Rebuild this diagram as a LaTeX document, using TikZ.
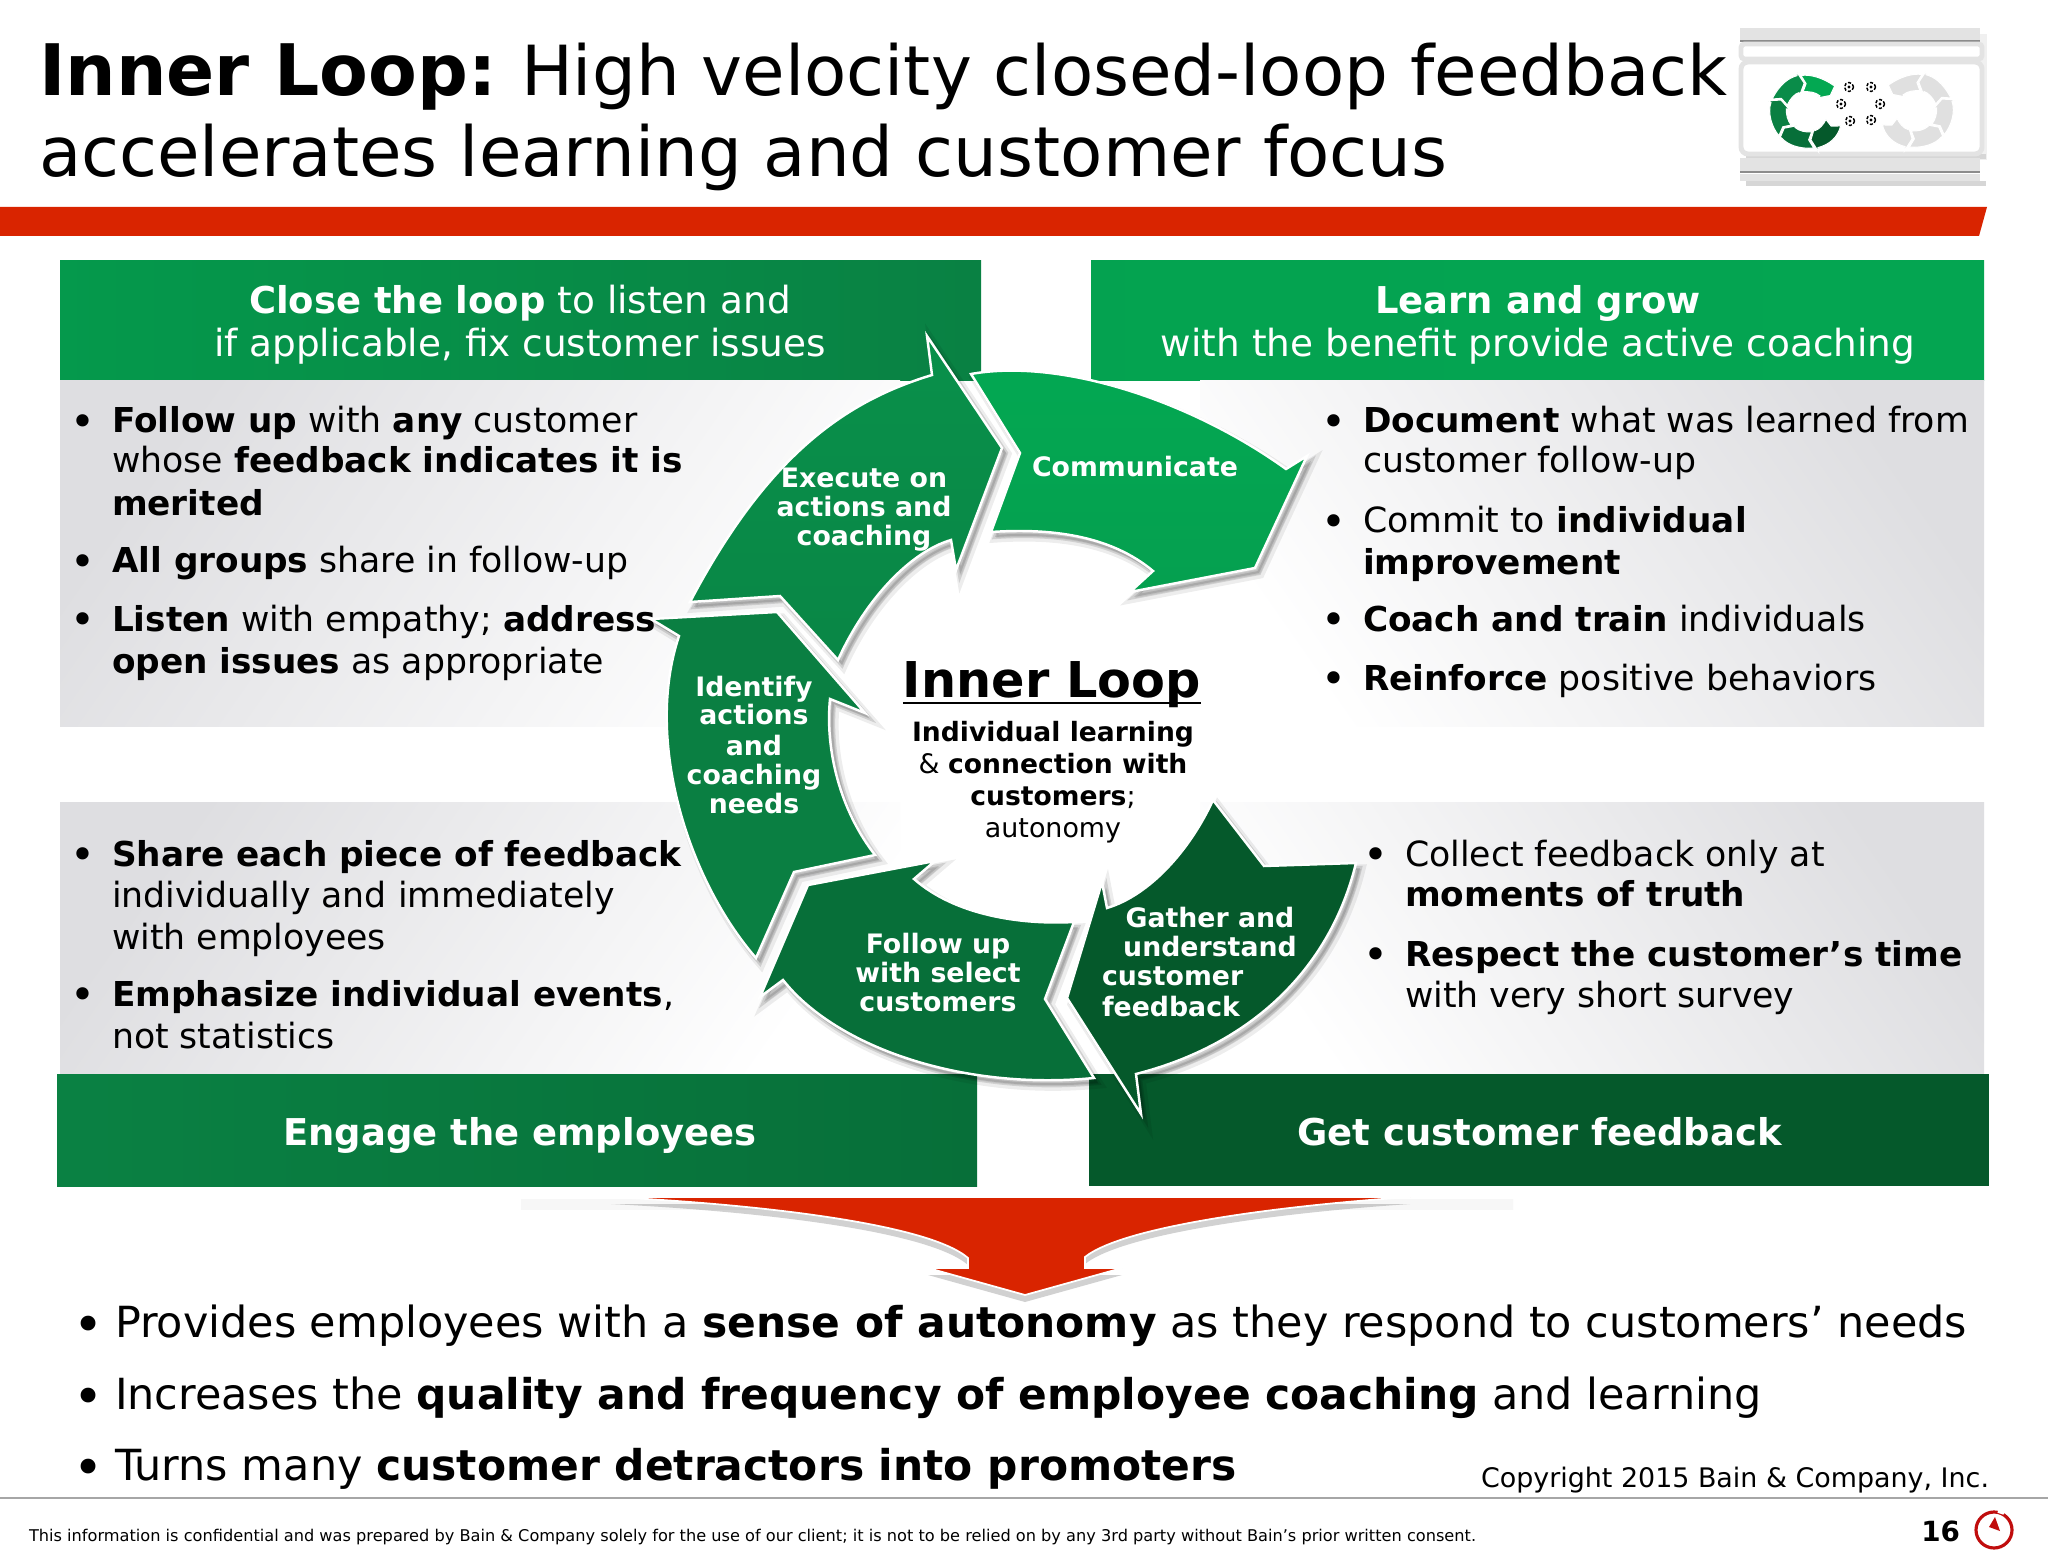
\documentclass[tikz,border=0pt]{standalone}
\usepackage{fontspec}
\setmainfont{DejaVu Sans}[BoldFeatures={Scale=0.988}]
\usepackage{tikz}
\usetikzlibrary{shadows}

\definecolor{barred}{HTML}{D92400}
\definecolor{panelgrey}{HTML}{DEDEE1}
\definecolor{logored}{HTML}{C00D0D}
\definecolor{loopcomm}{HTML}{03A852}
\definecolor{loopexec}{HTML}{0A8C49}
\definecolor{loopiden}{HTML}{0A7F42}
\definecolor{loopfoll}{HTML}{076F39}
\definecolor{loopgath}{HTML}{05592B}

\newcommand{\fsz}[1]{\fontsize{#1}{#1}\selectfont}

% the five arrows of the loop: style, then the look of each arrow
\newcommand{\loopring}[6]{%
  \path[#1,#2] (690,602) .. controls (770,450) and (850,400) .. (932,375) -- (927,336)
     -- (1002,448) -- (956,570) -- (951,540) .. controls (910,552) and (865,600) .. (838,660)
     -- (780,596) -- cycle;
  \path[#1,#3] (971,374) .. controls (1060,358) and (1190,400) .. (1286,469) -- (1307,456)
     -- (1255,568) -- (1130,592) -- (1153,571) .. controls (1110,535) and (1050,528) .. (991,532)
     -- (1020,453) -- cycle;
  \path[#1,#4] (1213,800) -- (1264,866) -- (1356,863) .. controls (1330,970) and (1250,1045) .. (1136,1074)
     -- (1141,1114) -- (1067,998) -- (1102,882) -- (1107,908) .. controls (1150,895) and (1190,850) .. (1213,800) -- cycle;
  \path[#1,#5] (1094,1078) -- (1045,999) -- (1074,922) .. controls (1020,925) and (955,915) .. (914,879)
     -- (935,861) -- (808,885) -- (760,997) -- (783,980) .. controls (835,1046) and (960,1091) .. (1094,1078) -- cycle;
  \path[#1,#6] (651,619) -- (777,612) -- (865,713) -- (830,699) .. controls (825,750) and (840,810) .. (875,855)
     -- (794,872) -- (756,958) .. controls (688,880) and (644,740) .. (679,636) -- cycle;
}

\tikzset{
  plain/.style={inner sep=0pt,outer sep=0pt},
  titletext/.style={plain,anchor=base west,font=\fsz{19.65}},
  headtext/.style={plain,anchor=base,text=white,font=\fsz{10.63}},
  bodytext/.style={plain,anchor=base west,font=\fsz{9.87}},
  dottext/.style={plain,anchor=center,font=\fsz{12}},
  closetext/.style={plain,anchor=base west,font=\fsz{12.2}},
  labeltext/.style={plain,anchor=base,text=white,font=\bfseries\fsz{7.7}},
  centertext/.style={plain,anchor=base,font=\fsz{7.65}},
  panelfade/.style={shading=axis,top color=panelgrey,middle color=white,bottom color=white},
  arrowbody/.style={draw=white,line width=.7pt,
    preaction={draw=black,fill=black,opacity=.07,line width=2.6pt,transform canvas={shift={(.05cm,-.06cm)}}},
    preaction={draw=black,fill=black,opacity=.12,line width=1.2pt,transform canvas={shift={(.04cm,-.05cm)}}}},
  minibody/.style={draw=white,line width=.3pt},
  stripbox/.style={fill=black!11,draw=none},
}

\begin{document}
\begin{tikzpicture}[x=.01cm,y=-.01cm]
\useasboundingbox (0,0) rectangle (2048,1567);
\fill[white] (0,0) rectangle (2048,1567);

% TITLE
  \node[titletext] (titlea) at (39,96) {{\fsz{20.45}\textbf{Inner Loop:}}\hspace{-.05cm} High velocity closed-loop feedback};
  \node[titletext] (titleb) at (39,177) {accelerates learning and customer focus};
  \fill[barred] (0,207) -- (1987,207) -- (1979,236) -- (0,236) -- cycle;

% ICON
  \fill[black!6] (1746,34) rectangle (1987,160);
  \fill[stripbox] (1740,28) rectangle (1980,41);
  \draw[black!45,line width=.4pt] (1740,41) -- (1980,41);
  \draw[black!11,fill=white,line width=1.4pt,rounded corners=1pt] (1741,44) rectangle (1982,59);
  \fill[black!16] (1746,154) rectangle (1986,159);
  \draw[black!11,fill=white,line width=1.4pt,rounded corners=2pt] (1741,62) rectangle (1982,154);
  \fill[stripbox] (1740,158) rectangle (1980,171);
  \draw[black!45,line width=.4pt] (1740,172) -- (1980,172);
  \fill[stripbox] (1740,174) rectangle (1980,181);
  \fill[black!16] (1746,181) rectangle (1986,186);
  \begin{scope}[shift={(1701,37)},scale=.103]
    \loopring{minibody}{fill=loopexec}{fill=loopcomm}{fill=loopgath}{fill=loopfoll}{fill=loopiden}
  \end{scope}
  \begin{scope}[shift={(2022,36)},xscale=-.103,yscale=.103]
    \loopring{minibody}{fill=black!12}{fill=black!12}{fill=black!12}{fill=black!12}{fill=black!12}
  \end{scope}
  \foreach \x/\y in {1849/87,1841/104,1850/121,1871/87,1880/104,1871/120}{
    \fill[black] (\x,\y) circle (1.6);
    \draw[black,line width=.4pt,dash pattern=on .9pt off .5pt] (\x,\y) circle (4.5);
  }

% HEADERS
  \shade[left color=loopcomm!75!loopexec!95!black,right color=loopexec!92!black] (60,261) rectangle (981,381);
  \shade[left color=loopcomm!80!loopexec,right color=loopcomm!90!loopexec] (1091,261) rectangle (1984,381);

% PANELS
  \shade[panelfade,shading angle=55] (60,381) rectangle (900,726);
  \shade[panelfade,shading angle=-55] (1200,381) rectangle (1984,726);
  \shade[panelfade,shading angle=55] (60,802) rectangle (900,1074);
  \shade[panelfade,shading angle=-55] (1200,802) rectangle (1984,1074);

% BOTTOM BARS
  \shade[left color=loopiden!85!loopexec,right color=loopfoll] (57,1074) rectangle (977,1186);
  \fill[loopgath] (1089,1074) rectangle (1989,1186);

% PANEL TEXT
  \foreach \nm/\yy/\txt in {a/433/{\textbf{Follow up} with \textbf{any} customer},
                            b/473/{whose \textbf{feedback indicates it is}},
                            c/516/{\textbf{merited}},
                            d/573/{\textbf{All groups} share in follow-up},
                            e/631/{\textbf{Listen} with empathy; \textbf{address}},
                            f/673/{\textbf{open issues} as appropriate},
                            g/866/{\textbf{Share each piece of feedback}},
                            h/907/{individually and immediately},
                            i/949/{with employees},
                            j/1006/{\textbf{Emphasize individual events},},
                            k/1048/{not statistics}}
    \node[bodytext] (left\nm) at (112,\yy) {\txt};
  \foreach \nm/\yy/\txt in {a/433/{\textbf{Document} what was learned from},
                            b/473/{customer follow-up},
                            c/533/{Commit to \textbf{individual}},
                            d/574/{\textbf{improvement}},
                            e/631/{\textbf{Coach and train} individuals},
                            f/690/{\textbf{Reinforce} positive behaviors}}
    \node[bodytext] (right\nm) at (1363,\yy) {\txt};
  \foreach \nm/\yy/\txt in {a/866/{Collect feedback only at},
                            b/906/{\textbf{moments of truth}},
                            c/966/{\textbf{Respect the customer’s time}},
                            d/1007/{with very short survey}}
    \node[bodytext] (low\nm) at (1405,\yy) {\txt};
  \foreach \nm/\x/\y in {a/83/426,b/83/566,c/83/624,d/83/859,e/83/999,
                         f/1334/426,g/1334/526,h/1334/624,i/1334/683,j/1376/859,k/1376/959}
    \node[dottext] (dot\nm) at (\x,\y) {•};

% HEADER TEXT
  \node[headtext] (closea) at (520,314) {\textbf{Close the loop} to listen and};
  \node[headtext] (closeb) at (520,357) {if applicable, fix customer issues};
  \node[headtext] (learna) at (1538,314) {\textbf{Learn and grow}};
  \node[headtext] (learnb) at (1538,357) {with the benefit provide active coaching};
  \node[headtext] (engage) at (520,1145) {\textbf{Engage the employees}};
  \node[headtext] (getfb) at (1540,1145) {\textbf{Get customer feedback}};

% LOOP
  \loopring{arrowbody}{top color=loopexec!85!loopcomm,bottom color=loopexec!80!loopfoll}
    {top color=loopcomm,bottom color=loopcomm!70!loopexec}
    {fill=loopgath}{fill=loopfoll}{fill=loopiden}

  \node[labeltext] (exa) at (864,488) {Execute on};
  \node[labeltext] (exb) at (864,517) {actions and};
  \node[labeltext] (exc) at (864,546) {coaching};
  \node[labeltext] (comm) at (1135,477) {Communicate};
  \node[labeltext] (ida) at (754,696) {Identify};
  \node[labeltext] (idb) at (754,725) {actions};
  \node[labeltext] (idc) at (754,755) {and};
  \node[labeltext] (idd) at (754,784) {coaching};
  \node[labeltext] (ide) at (754,813) {needs};
  \node[labeltext] (foa) at (938,953) {Follow up};
  \node[labeltext] (fob) at (938,982) {with select};
  \node[labeltext] (foc) at (938,1011) {customers};
  \node[labeltext] (gaa) at (1210,927) {Gather and};
  \node[labeltext] (gab) at (1210,956) {understand};
  \node[labeltext,anchor=base west] (gac) at (1102,985) {customer};
  \node[labeltext,anchor=base west] (gad) at (1102,1016) {feedback};

% CENTER
  \node[plain,anchor=base,font=\bfseries\fsz{14.2}] (innerhead) at (1052,697) {Inner Loop};
  \draw[black,line width=.6pt] (innerhead.west |- 0,703) -- (innerhead.east |- 0,703);
  \node[centertext] (innera) at (1053,741) {\textbf{Individual learning}};
  \node[centertext] (innerb) at (1053,773) {\& \textbf{connection with}};
  \node[centertext] (innerc) at (1053,805) {\textbf{customers};};
  \node[centertext] (innerd) at (1053,837) {autonomy};

% RED ARROW
  \shade[left color=black!3,middle color=black!14,right color=black!3] (521,1199) rectangle (1513,1209);
  \path[fill=barred,draw=white,line width=.5pt,
        preaction={fill=black,opacity=.18,transform canvas={shift={(.0cm,-.07cm)}}}]
     (611,1197) -- (1410,1197) .. controls (1290,1205) and (1125,1225) .. (1085,1257) -- (1085,1268) -- (1122,1268)
     -- (1025,1295) -- (928,1268) -- (968,1268) -- (968,1258) .. controls (930,1225) and (770,1205) .. (611,1197) -- cycle;

% CLOSING TEXT
  \foreach \nm/\yy/\txt in {a/1337/{Provides employees with a \textbf{sense of autonomy} as they respond to customers’ needs},
                            b/1409/{Increases the \textbf{quality and frequency of employee coaching} and learning},
                            c/1480/{Turns many \textbf{customer detractors into promoters}}}
    \node[closetext] (bottom\nm) at (115,\yy) {\txt};
  \foreach \nm/\y in {a/1329,b/1401,c/1472}
    \node[plain,anchor=center,font=\fsz{14.5}] (bdot\nm) at (89,\y) {•};

% FOOTER
  \draw[black!35,line width=.7pt] (0,1498) -- (2048,1498);
  \node[plain,anchor=base east,font=\fsz{7.65}] (copy) at (1989,1487) {Copyright 2015 Bain \& Company, Inc.};
  \node[plain,anchor=base west,font=\fsz{4.6}] (confid) at (29,1541) {This information is confidential and was prepared by Bain \& Company solely for the use of our client; it is not to be relied on by any 3rd party without Bain's prior written consent.};
  \node[plain,anchor=base east,font=\bfseries\fsz{8}] (pagenum) at (1960,1541) {16};
  \draw[logored,line width=.9pt] (1994,1530) circle (18);
  \draw[white,line width=1pt] (1998,1511) -- (2004,1513);
  \fill[logored] (1995,1517) -- (1989,1527) -- (2000,1531) -- cycle;
\end{tikzpicture}
\end{document}
